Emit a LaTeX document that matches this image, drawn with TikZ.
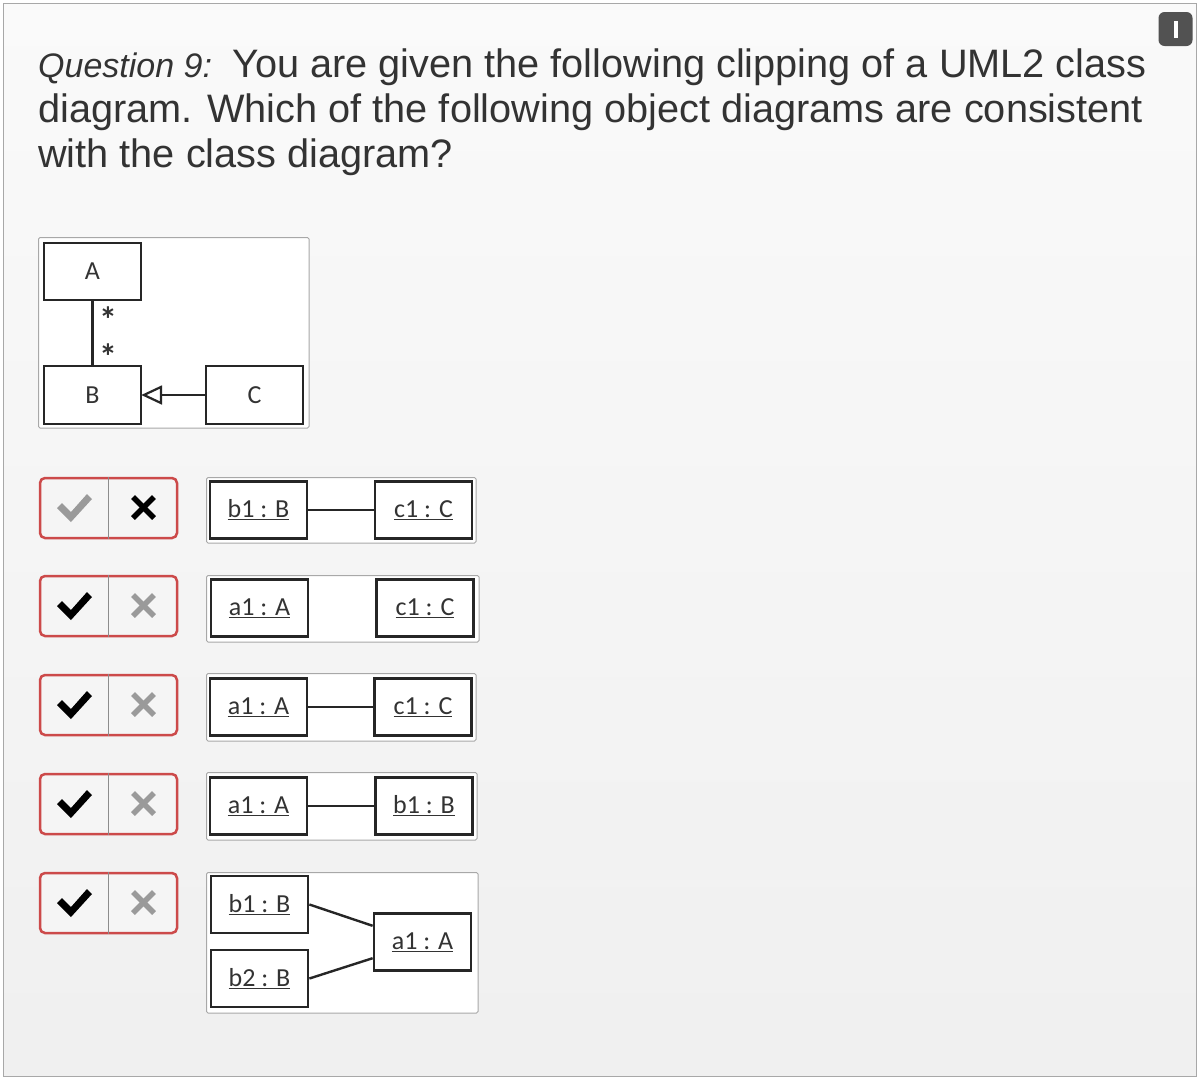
\documentclass[tikz,border=0pt]{standalone}
\usepackage{fontspec}
\setmainfont{Liberation Sans}
\newfontfamily\objfont{Carlito}
\usetikzlibrary{arrows.meta}
\definecolor{txt}{HTML}{333333}
\definecolor{btnred}{HTML}{CC4A4A}
\definecolor{inact}{HTML}{9A9A9A}
\definecolor{frameg}{HTML}{A8A8A8}
\definecolor{boxk}{HTML}{262626}
\begin{document}
\begin{tikzpicture}[x=1pt,y=-1pt,
  frame/.style={draw=frameg, line width=1pt, fill=white, rounded corners=1.5pt},
  cls/.style={draw=boxk, line width=2.8pt, fill=white, minimum width=97pt, minimum height=55pt, inner sep=0pt, font=\objfont\fontsize{26}{28}\selectfont, text=txt},
  obj/.style={draw=boxk, line width=2.8pt, fill=white, minimum width=97pt, minimum height=57pt, inner sep=0pt, font=\objfont\fontsize{26}{30}\selectfont, text=txt},
  link/.style={draw=boxk, line width=2.4pt},
  star/.style={text=txt, font=\objfont\bfseries\fontsize{36}{36}\selectfont, inner sep=0pt},
  btn/.style={draw=btnred, line width=2.5pt, fill=white!96!black, rounded corners=5pt, minimum width=137pt, minimum height=60pt, inner sep=0pt},
  ok/.style={line width=5.5pt, line join=miter},
  title/.style={anchor=base west, inner sep=0pt, text=txt, font=\fontsize{39.7}{46}\selectfont}
]
\useasboundingbox (0,0) rectangle (1200,1079);
% background panel
\shade[top color=white!98!black, bottom color=white!94!black, draw=frameg, line width=1pt]
  (3.5,3.5) rectangle (1196.5,1076.5);
% info icon
\node[fill=black!68, rounded corners=6pt, minimum width=34pt, minimum height=34pt, inner sep=0pt] (icon) at (1175.5,29) {};
\fill[white] (1173.5,21) rectangle (1177.5,38);

% title
\node[anchor=base west, inner sep=0pt, text=txt, font=\itshape\fontsize{34}{40}\selectfont] (q) at (38,77) {Question 9:};
\node[title] (t1) at (232,77) {You are given the following clipping of a UML2 class};
\node[title] (t2) at (38,122) {diagram. Which of the following object diagrams are consistent};
\node[title] (t3) at (38,167) {with the class diagram?};

% class diagram
\draw[frame] (38.5,237.5) rectangle (309,428);
\node[cls, minimum height=57pt] (A) at (92.5,271.5) {A};
\node[cls, minimum height=58pt] (B) at (92.5,395) {B};
\node[cls, minimum height=58pt] (C) at (254.5,395) {C};
\draw[link] (A.south) -- (B.north);
\node[star] (s1) at (108,320) {*};
\node[star] (s2) at (108,357) {*};
\draw[link, shorten >=17pt] (C.west) -- (B.east);
\draw[draw=boxk, line width=2.2pt, fill=white, line join=miter] ([xshift=1.5pt]B.east) -- ++(17,-8) -- ++(0,16) -- cycle;

% buttons
\foreach \i/\y in {1/508, 2/606, 3/705, 4/804, 5/903}{
  \node[btn] (k\i) at (108.5,\y) {};
  \draw[black!45, line width=1pt] (k\i.north) -- (k\i.south);
}
\foreach \i/\y/\ck/\cx in {1/508/inact/black, 2/606/black/inact, 3/705/black/inact, 4/804/black/inact, 5/903/black/inact}{
  \fill[\ck] (57,\y) -- (62,\y-5) -- (71,\y+4) -- (87,\y-14) -- (92,\y-9) -- (71,\y+14) -- cycle;
  \draw[ok, draw=\cx] (133,\y-11) -- (154,\y+10);
  \draw[ok, draw=\cx] (133,\y+10) -- (154,\y-11);
}

% object diagram 1
\draw[frame] (206.5,477.5) rectangle (476,543);
\node[obj] (o1b) at (258.5,510) {\underline{b1 : B}};
\node[obj] (o1c) at (423.5,510) {\underline{c1 : C}};
\draw[link] (o1b.east) -- (o1c.west);

% object diagram 2
\draw[frame] (206.5,575.5) rectangle (479,642);
\node[obj] (o2a) at (259.5,608) {\underline{a1 : A}};
\node[obj] (o2c) at (425,608) {\underline{c1 : C}};

% object diagram 3
\draw[frame] (206.5,673.5) rectangle (476,741);
\node[obj] (o3a) at (258.5,707) {\underline{a1 : A}};
\node[obj] (o3c) at (423,707) {\underline{c1 : C}};
\draw[link] (o3a.east) -- (o3c.west);

% object diagram 4
\draw[frame] (206.5,772.5) rectangle (477,840);
\node[obj] (o4a) at (258.5,806) {\underline{a1 : A}};
\node[obj] (o4b) at (424,806) {\underline{b1 : B}};
\draw[link] (o4a.east) -- (o4b.west);

% object diagram 5
\draw[frame] (206.5,872.5) rectangle (478,1013);
\node[obj] (o5b1) at (259.5,904.5) {\underline{b1 : B}};
\node[obj] (o5b2) at (259.5,978.5) {\underline{b2 : B}};
\node[obj] (o5a) at (422.5,942) {\underline{a1 : A}};
\draw[link] (o5b1.east) -- (o5a.162);
\draw[link] (o5b2.east) -- (o5a.198);
\end{tikzpicture}
\end{document}
